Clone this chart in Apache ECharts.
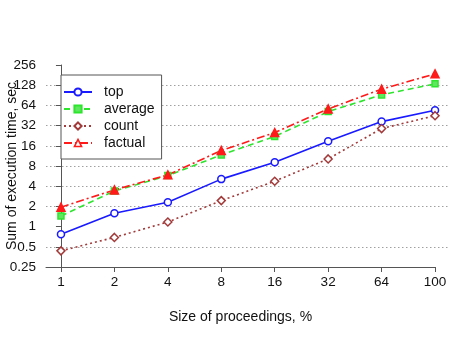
<!DOCTYPE html>
<html>
<head>
<meta charset="utf-8">
<script src="https://cdn.jsdelivr.net/npm/echarts@6/dist/echarts.min.js"></script>
<style>html,body{margin:0;padding:0;background:#fff;}#c{width:474px;height:338px;}</style>
</head>
<body>
<div id="c"></div>
<script>
const categories = ['1', '2', '4', '8', '16', '32', '64', '100'];
const topVals = [0.77, 1.58, 2.31, 5.1, 9.1, 18.7, 36.7, 54.3];
const averageVals = [1.44, 3.4, 5.75, 11.7, 22, 51.7, 91.8, 134];
const countVals = [0.435, 0.69, 1.17, 2.44, 4.75, 10.2, 28.9, 45];
const factualVals = [1.95, 3.52, 5.9, 13.6, 25.2, 56.8, 111.6, 189];
const yTicks = [0.25, 0.5, 1, 2, 4, 8, 16, 32, 64, 128, 256];
const gridHidden = [0.25, 1, 256];

const FONT = '"Liberation Sans", Arial, sans-serif';
const idx = categories.map((c, i) => i);
const toData = vals => vals.map((v, i) => [i, v]);

const chart = echarts.init(document.getElementById('c'), null, {renderer: 'canvas'});

const splitColors = yTicks.map(t => gridHidden.indexOf(t) >= 0 ? 'rgba(0,0,0,0)' : '#a0a0a0');

function mkSeries(name, vals, color, lineType, symbol, size, fill) {
  return {
    name: name, type: 'line', xAxisIndex: 0, yAxisIndex: 0,
    data: toData(vals),
    symbol: symbol, symbolSize: size, showAllSymbol: true,
    lineStyle: {color: color, width: 1.6, type: lineType},
    itemStyle: {color: fill, borderColor: color, borderWidth: 1.5},
    emphasis: {disabled: true},
    z: 3
  };
}

chart.setOption({
  animation: false,
  backgroundColor: '#fff',
  textStyle: {fontFamily: FONT},
  grid: [
    {left: 46, right: 24, top: 65, bottom: 71, outerBoundsMode: 'none', containLabel: false},
    {left: 46, right: 39, top: 65, bottom: 71, outerBoundsMode: 'none', containLabel: false}
  ],
  xAxis: [
    {gridIndex: 0, type: 'value', min: -0.28, max: 7.28, show: false},
    {
      gridIndex: 1, type: 'value', min: -0.28, max: 7,
      name: 'Size of proceedings, %', nameLocation: 'middle', nameGap: 43, nameMoveOverlap: false,
      nameTextStyle: {fontSize: 14, color: '#111', fontFamily: FONT},
      axisLine: {show: true, onZero: false, lineStyle: {color: '#555', width: 1}},
      axisTick: {show: true, customValues: idx, length: 5, lineStyle: {color: '#555'}},
      axisLabel: {show: true, customValues: idx, margin: 8, fontSize: 13.5, color: '#111', fontFamily: FONT,
        formatter: v => categories[Math.round(v)] || ''},
      splitLine: {show: false}
    }
  ],
  yAxis: [
    {
      gridIndex: 0, type: 'log', logBase: 2, min: 0.25, max: 256, interval: 1,
      name: 'Sum of execution time, sec', nameLocation: 'middle', nameGap: 27, nameRotate: 90,
      nameMoveOverlap: false,
      nameTextStyle: {fontSize: 14, color: '#111', fontFamily: FONT},
      axisLine: {show: true, lineStyle: {color: '#555', width: 1}},
      axisTick: {show: true, length: 5, lineStyle: {color: '#555'}},
      axisLabel: {show: true, margin: 10, fontSize: 13.5, color: '#111', fontFamily: FONT,
        formatter: v => String(+(+v).toPrecision(6))},
      splitLine: {show: true, lineStyle: {color: splitColors, type: [1.5, 2.5], width: 1}},
      minorTick: {show: false}
    },
    {gridIndex: 1, type: 'log', logBase: 2, min: 0.25, max: 256, show: false}
  ],
  legend: {
    orient: 'vertical', left: 61, top: 75,
    padding: [10, 7, 9, 2], itemGap: 3, itemWidth: 28, itemHeight: 9,
    backgroundColor: '#fff', borderColor: '#555', borderWidth: 1, borderRadius: 0,
    textStyle: {fontSize: 14, color: '#111', fontFamily: FONT, padding: [0, 0, 0, 7]},
    data: [
      {name: 'top'},
      {name: 'average'},
      {name: 'count'},
      {name: 'factual', itemStyle: {color: '#fff', borderColor: '#ff1a1a', borderWidth: 1.5}}
    ],
    selectedMode: false,
    z: 10
  },
  series: [
    mkSeries('top', topVals, '#1a1aff', 'solid', 'circle', 7, '#fff'),
    mkSeries('average', averageVals, '#2ee52e', [6, 4], 'rect', 6, '#5fe85f'),
    mkSeries('count', countVals, '#a33a3a', [2, 3], 'diamond', 8, '#fff'),
    mkSeries('factual', factualVals, '#ff1a1a', [8, 3, 2, 3], 'triangle', 8, '#ff1a1a')
  ]
});
</script>
</body>
</html>
